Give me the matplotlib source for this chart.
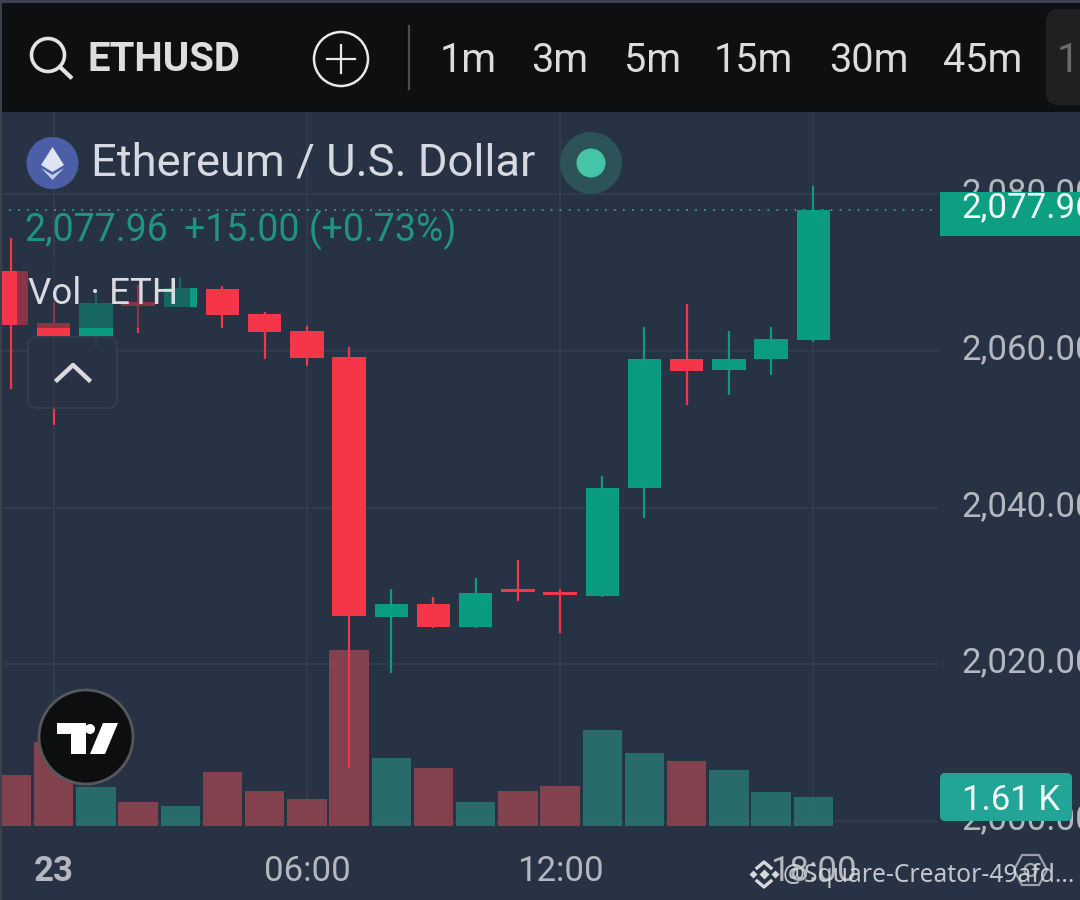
import matplotlib
matplotlib.use("Agg")
import matplotlib.pyplot as plt
from matplotlib.patches import Circle, Rectangle, FancyBboxPatch, Polygon
from matplotlib.transforms import ScaledTranslation

plt.rcParams["font.family"] = ["Roboto", "DejaVu Sans"]

# hourly candles, hour 0 is the "23" tick
hours = [-1, 0, 1, 2, 3, 4, 5, 6, 7, 8, 9, 10, 11, 12, 13, 14, 15, 16, 17, 18]
opens = [2070.2, 2063.6, 2061.9, 2066.3, 2065.6, 2067.9, 2064.7, 2062.55, 2059.2, 2026.0,
         2027.7, 2024.7, 2029.6, 2029.2, 2028.7, 2042.5, 2059.0, 2057.6, 2059.0, 2061.4]
closes = [2063.3, 2061.9, 2066.1, 2065.75, 2068.05, 2064.6, 2062.4, 2059.1, 2026.1, 2027.7,
          2024.7, 2029.1, 2029.2, 2028.8, 2042.5, 2059.0, 2057.45, 2059.0, 2061.5, 2077.96]
highs = [2074.4, 2066.3, 2067.4, 2068.4, 2069.5, 2068.3, 2065.0, 2063.2, 2060.5, 2029.6,
         2028.6, 2031.0, 2033.3, 2029.6, 2044.0, 2063.1, 2066.0, 2062.55, 2063.1, 2081.1]
lows = [2055.1, 2050.5, 2060.4, 2062.3, 2065.6, 2062.9, 2059.0, 2058.1, 2006.7, 2018.85,
        2024.6, 2024.6, 2028.05, 2024.0, 2028.6, 2038.7, 2053.1, 2054.4, 2056.9, 2061.15]
volumes = [2.83, 4.67, 2.17, 1.33, 1.11, 3.0, 1.94, 1.5, 9.78, 3.78,
           3.22, 1.36, 1.94, 2.22, 5.36, 4.03, 3.61, 3.11, 1.89, 1.61]

price_ticks = [2000, 2020, 2040, 2060, 2080]
price_labels = ["2,000.00", "2,020.00", "2,040.00", "2,060.00", "2,080.00"]
time_ticks = [0, 6, 12, 18]
time_labels = ["23", "06:00", "12:00", "18:00"]
intervals = ["1m", "3m", "5m", "15m", "30m", "45m"]
interval_x = [440, 531, 624, 714, 829, 943]

BG = "#273245"
BAR = "#0e0f11"
UP = "#0a9c80"
DOWN = "#f43648"
GRID = "#3a4658"
LABEL = "#b4b7bd"

fig = plt.figure(figsize=(10.8, 9), dpi=100, facecolor=BG)
rect = [0, 74 / 900, 938 / 1080, 714 / 900]

# three layers: grid, volume bars, candles
ax_grid = fig.add_axes(rect, zorder=0, facecolor=BG)
ax_vol = fig.add_axes(rect, zorder=1, facecolor="none")
ax = fig.add_axes(rect, zorder=2, facecolor="none")

xlim = (-1.2725, 20.955)
ylim = (1999.3, 2090.54)
ax.set_xlim(xlim)
ax.set_ylim(ylim)
ax_grid.set_xlim(xlim)
ax_grid.set_ylim(ylim)
ax_vol.set_xlim(xlim)
ax_vol.set_ylim(0, 39.67)
ax_vol.set_xticks([])
ax_vol.set_yticks([])

for a in (ax, ax_vol, ax_grid):
    for s in a.spines.values():
        s.set_visible(False)

ax_grid.set_xticks(time_ticks, [""] * len(time_ticks))
ax_grid.set_yticks(price_ticks, [""] * len(price_ticks))
ax_grid.tick_params(length=0)
ax_grid.grid(True, color=GRID, linewidth=1.4, alpha=0.5)

colors = [UP if c >= o else DOWN for o, c in zip(opens, closes)]
vol_colors = ["#27716f" if c == UP else "#8b434e" for c in colors]
ax_vol.bar(hours, volumes, width=0.93, color=vol_colors, alpha=0.93)

ax.vlines(hours, lows, highs, colors=colors, linewidth=1.6, zorder=3)
ax.bar(hours, [abs(c - o) for o, c in zip(opens, closes)],
       bottom=[min(o, c) for o, c in zip(opens, closes)],
       width=0.79, color=colors, zorder=4)
ax.axhline(closes[-1], color="#3d9a8e", linewidth=1.3, linestyle=(0, (1, 4)), zorder=2)

ax.set_xticks(time_ticks, time_labels)
ax.yaxis.tick_right()
ax.set_yticks(price_ticks, price_labels)
ax.tick_params(axis="x", length=0, pad=21, labelsize=25, labelcolor=LABEL)
ax.tick_params(axis="y", length=0, pad=17, labelsize=25, labelcolor=LABEL)
ax.get_xticklabels()[0].set_fontweight("bold")
# price labels sit a little above their grid lines
lift = ScaledTranslation(0, 4.5 / 100, fig.dpi_scale_trans)
for lab in ax.get_yticklabels():
    lab.set_transform(lab.get_transform() + lift)

# everything that sits on top of the chart, in screen pixels
top = fig.add_axes([0, 0, 1, 1], zorder=5, facecolor="none")
top.set_xlim(0, 1080)
top.set_ylim(900, 0)
top.axis("off")

# dimming behind the volume legend
top.add_patch(Rectangle((17, 258), 173, 70, color=BG, alpha=0.5, lw=0))
top.add_patch(Rectangle((0, 0), 1080, 112, color=BAR, lw=0))
top.add_patch(Rectangle((0, 0), 1080, 3, color="#3b404c", lw=0))
top.add_patch(Rectangle((0, 0), 2, 900, color="#3c4048", lw=0))

# toolbar
top.add_patch(Circle((48, 55), 16.5, fill=False, ec="#e3e3e3", lw=2.6))
top.plot([60, 70.5], [67, 77], color="#e3e3e3", lw=3)
top.text(88, 60, "ETHUSD", color="#dedede", fontsize=29, fontweight="bold", va="center")
top.add_patch(Circle((341, 59), 27, fill=False, ec="#e8e8e8", lw=1.8))
top.plot([327, 355], [59, 59], color="#e8e8e8", lw=1.6)
top.plot([341, 341], [45, 73], color="#e8e8e8", lw=1.6)
top.plot([409, 409], [26, 89], color="#4b4c4e", lw=1.6)
for label, x in zip(intervals, interval_x):
    top.text(x, 60, label, color="#dcdcdc", fontsize=28.5, va="center")
top.add_patch(FancyBboxPatch((1046, 9), 60, 96, boxstyle="round,pad=0,rounding_size=12",
                             fc="#1f2022", ec="none"))
top.text(1057, 60, "1", color="#6a6b6d", fontsize=28.5, va="center")

# header
top.add_patch(Circle((52.5, 163), 26, color="#4c5ea6", lw=0))
top.add_patch(Polygon([(52.5, 147), (41, 165), (52.5, 172), (64, 165)], color="#dfe4f5", lw=0))
top.add_patch(Polygon([(41, 168), (52.5, 180), (64, 168), (52.5, 175)], color="#c6cdea", lw=0))
top.text(91, 164, "Ethereum / U.S. Dollar", color="#d6d9df", fontsize=32.7, va="center")
top.add_patch(Circle((591, 163), 31, color="#2c5357", lw=0))
top.add_patch(Circle((591, 163), 14.5, color="#46c4a8", lw=0))
top.text(24, 230, "2,077.96", color="#1f9481", fontsize=27, va="center")
top.text(184, 230, "+15.00 (+0.73%)", color="#1f9481", fontsize=27, va="center")
top.text(28, 294, "Vol · ETH", color="#d8dbe0", fontsize=26.5, va="center")

# collapse button
top.add_patch(FancyBboxPatch((28, 337), 89, 71, boxstyle="round,pad=0,rounding_size=9",
                             fc=BG, ec="#353f4d", lw=1.3, alpha=0.9))
top.plot([57, 73, 89], [380, 365, 380], color="#d8dadd", lw=3.2)

# last price and last volume tags
top.add_patch(Rectangle((940, 192), 140, 44, color="#0c9f82", lw=0))
top.text(961, 208, "2,077.96", color="#f0fbf8", fontsize=25, va="center")
top.add_patch(FancyBboxPatch((940, 773), 132, 48, boxstyle="round,pad=0,rounding_size=5",
                             fc="#22a597", ec="none"))
top.text(962, 800, "1.61 K", color="#eefaf7", fontsize=25, va="center")

# tradingview badge
top.add_patch(Circle((86, 737), 47, fc="#0d0e10", ec="#56585c", lw=2))
top.add_patch(Polygon([(57, 723), (86, 723), (86, 754), (70.5, 754), (70.5, 734), (57, 734)],
                      color="white", lw=0))
top.add_patch(Circle((90, 729), 5, color="white", lw=0))
top.add_patch(Polygon([(103, 723), (118, 723), (105, 754), (90, 754)], color="white", lw=0))

# watermark
top.plot([757, 764, 771], [868, 862, 868], color="#d6d8dc", lw=2.4)
top.plot([757, 764, 771], [881, 887, 881], color="#d6d8dc", lw=2.4)
for x, y, size in [(753, 874, 4), (775, 874, 4), (764, 874, 5.5)]:
    top.plot(x, y, marker="D", ms=size, mfc="#d6d8dc", mec="none")
top.add_patch(Polygon([(1014, 870), (1022, 855), (1039, 855), (1047, 870), (1039, 885), (1022, 885)],
                      fill=False, ec="#9a9fa8", lw=1.6))
top.add_patch(Circle((1030.5, 870), 6, fill=False, ec="#9a9fa8", lw=1.6))
top.text(783, 875, "@Square-Creator-49afd...", color="#d4d7dc", fontsize=17.7,
         family=["Noto Sans", "DejaVu Sans"], va="center", alpha=0.9)

fig.savefig("out.png", dpi=100, facecolor=BG)
